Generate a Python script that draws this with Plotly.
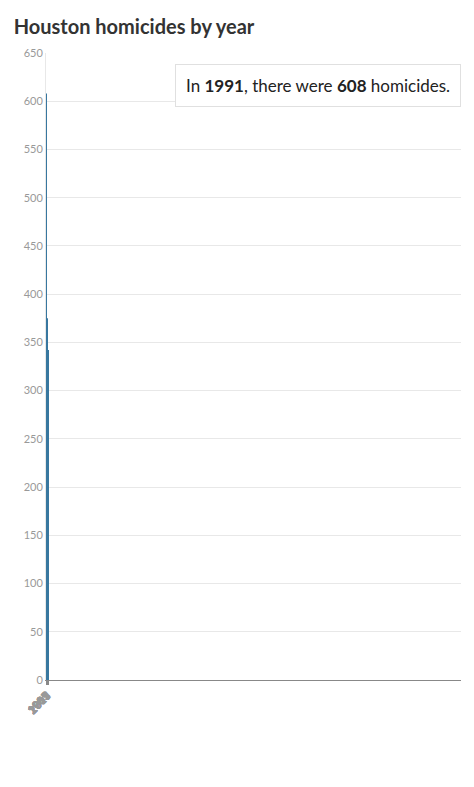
import plotly.graph_objects as go

years = list(range(1985, 2021))
homicides = [456, 408, 322, 363, 460, 569, 608, 464, 447, 376, 315, 260, 253, 253, 242, 230,
             266, 256, 277, 272, 335, 375, 352, 293, 287, 271, 198, 217, 216, 242, 303, 303,
             261, 279, 275, 342]
tick_years = [str(y) for y in range(1985, 2021, 2)]

fig = go.Figure(go.Bar(x=[str(y) for y in years], y=homicides, marker_color="#38779f",
                       marker_line_width=0, hoverinfo="skip"))
fig.add_annotation(x="1991", y=608, xref="x", yref="y", ax=12, ay=-8,
                   text="In <b>1991</b>, there were <b>608</b> homicides.", showarrow=True,
                   arrowhead=0, arrowwidth=0.1, arrowcolor="rgba(0,0,0,0)", xanchor="left",
                   font=dict(size=17, color="#222", family="Lato"), bgcolor="white",
                   bordercolor="#e0e0e0", borderwidth=1, borderpad=10)
fig.update_layout(
    width=474, height=787, plot_bgcolor="white", paper_bgcolor="white",
    title=dict(text="<b>Houston homicides by year</b>", x=0.012, y=0.985, xanchor="left",
               font=dict(size=20, color="#333", family="Lato")),
    margin=dict(l=38, r=21, t=45, b=115), bargap=0.18, showlegend=False,
    font=dict(family="Lato", color="#999", size=11),
    xaxis=dict(type="category", tickmode="array", tickvals=tick_years, tickangle=-45,
               showline=True, linecolor="#888", ticks="outside", ticklen=4, tickcolor="#888"),
    yaxis=dict(range=[0, 650], dtick=50, gridcolor="#e8e8e8", zeroline=False,
               showline=True, linecolor="#e8e8e8"),
)
fig.write_html("out.html")
